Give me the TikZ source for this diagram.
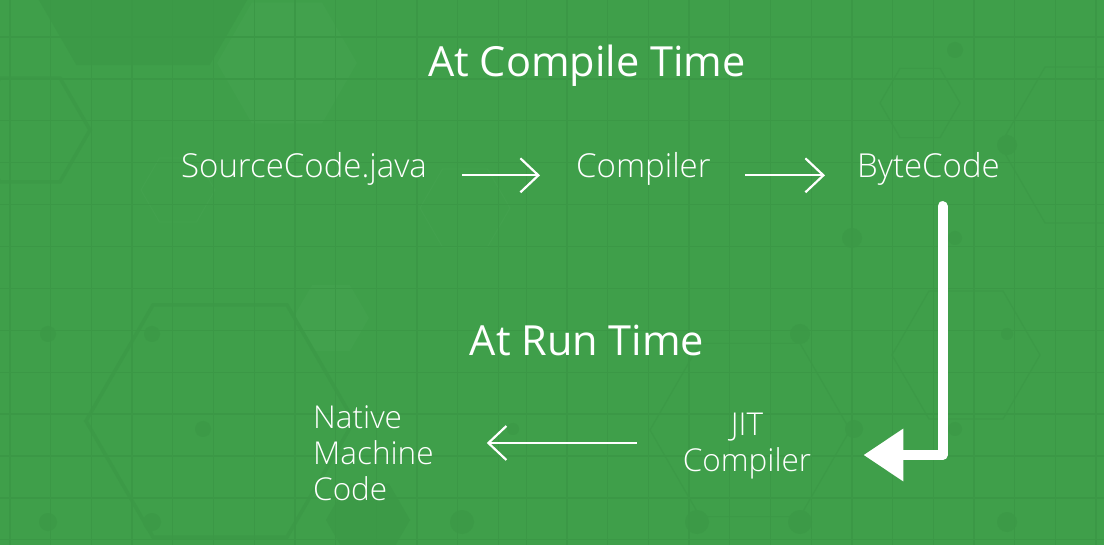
\documentclass[tikz,border=0pt]{standalone}
\usepackage{fontspec}
\setmainfont{Open Sans}
\newfontfamily\lightfont{Open Sans Light}
\usetikzlibrary{arrows.meta,calc}
\definecolor{bg}{HTML}{3F9F4A}
\definecolor{gridc}{HTML}{3B9846}
\definecolor{darkc}{HTML}{3C9A47}
\definecolor{lightc}{HTML}{42A14D}
\begin{document}
\begin{tikzpicture}[x=1pt,y=-1pt,
  txt/.style={text=white,font=\lightfont\fontsize{33}{36}\selectfont,inner sep=0pt},
  txts/.style={text=white,font=\lightfont\fontsize{31.5}{36}\selectfont,inner sep=0pt},
  ttl/.style={text=white,font=\fontsize{41.5}{48}\selectfont,inner sep=0pt},
  arr/.style={white,line width=2.2pt,-{Straight Barb[length=18pt,width=34pt]}},
  big/.style={white,line width=10pt,line cap=round,line join=round,-{Triangle[length=40pt,width=50pt]}},
  gridl/.style={gridc,line width=1.3pt},
  hexdark/.style={darkc,line width=3.5pt},
  hexthin/.style={darkc,line width=1.2pt},
  hexlight/.style={lightc,line width=1.2pt},
  dot/.style={fill=darkc}]
\fill[bg] (0,0) rectangle (1104,545);
\useasboundingbox (0,0) rectangle (1104,545);
% faint background hexagons
\fill[darkc] (143,-50) +(0:133) -- +(60:133) -- +(120:133) -- +(180:133) -- +(240:133) -- +(300:133) -- cycle;
\fill[lightc] (287,63) +(0:70) -- +(60:70) -- +(120:70) -- +(180:70) -- +(240:70) -- +(300:70) -- cycle;
\fill[lightc] (331,318) +(0:38) -- +(60:38) -- +(120:38) -- +(180:38) -- +(240:38) -- +(300:38) -- cycle;
\fill[darkc] (368,520) +(0:42) -- +(60:42) -- +(120:42) -- +(180:42) -- +(240:42) -- +(300:42) -- cycle;
\draw[hexdark] (220,421) +(0:134) -- +(60:134) -- +(120:134) -- +(180:134) -- +(240:134) -- +(300:134) -- cycle;
\draw[hexdark] (30,130) +(0:60) -- +(60:60) -- +(120:60) -- +(180:60) -- +(240:60) -- +(300:60) -- cycle;
\draw[hexlight] (178,190) +(0:37) -- +(60:37) -- +(120:37) -- +(180:37) -- +(240:37) -- +(300:37) -- cycle;
\draw[hexlight] (465,208) +(0:45) -- +(60:45) -- +(120:45) -- +(180:45) -- +(240:45) -- +(300:45) -- cycle;
\draw[hexthin] (920,103) +(0:40) -- +(60:40) -- +(120:40) -- +(180:40) -- +(240:40) -- +(300:40) -- cycle;
\draw[hexthin] (966,355) +(0:74) -- +(60:74) -- +(120:74) -- +(180:74) -- +(240:74) -- +(300:74) -- cycle;
\draw[hexthin] (1090,145) +(0:90) -- +(60:90) -- +(120:90) -- +(180:90) -- +(240:90) -- +(300:90) -- cycle;
\draw[hexthin] (750,430) +(0:100) -- +(60:100) -- +(120:100) -- +(180:100) -- +(240:100) -- +(300:100) -- cycle;
\foreach \cx/\cy/\rr in {48/334/8,152/334/8,203/429/8,48/522/9,152/522/9,462/522/12,513/429/6,
  800/334/10,854/429/9,697/522/12,800/522/12,1007/334/6,1007/522/10,955/429/7,
  955/50/8,1007/145/10,852/238/10,955/238/7}
  { \fill[dot] (\cx,\cy) circle (\rr pt); }
% grid
\foreach \i in {0,...,12} \draw[gridl] ({10+40.7*\i},0) -- ++(0,545);
\foreach \i in {0,...,14} \draw[gridl] ({526.3+40.7*\i},0) -- ++(0,545);
\foreach \j in {0,...,13} \draw[gridl] (0,{-4.9+41.9*\j}) -- ++(1104,0);

\node[ttl,anchor=base] (t1) at (587,77) {At Compile Time};
\node[txt,anchor=base west] (src) at (181,178) {SourceCode.java};
\node[txt,anchor=base west] (comp) at (576,178) {Compiler};
\node[txt,anchor=base west] (bc) at (857,178) {ByteCode};
\node[ttl,anchor=base] (t2) at (587,356) {At Run Time};
\node[txts,align=center] (jit) at (747,446) {JIT\\Compiler};
\node[txts,align=left,anchor=west] (nat) at (313,453) {Native\\Machine\\Code};

\draw[arr,shorten <=35pt,shorten >=36pt] (src.mid east) -- (comp.mid west);
\draw[arr,shorten <=34pt,shorten >=32pt] (comp.mid east) -- (bc.mid west);
\draw[arr,shorten <=46pt,shorten >=53pt] ([yshift=3pt]jit.west) -- ([yshift=3pt]jit.west -| nat.east);
\draw[big,shorten >=52pt] ([xshift=14pt,yshift=-20pt]bc.south) |- ([yshift=-9pt]jit.east);
\end{tikzpicture}
\end{document}
